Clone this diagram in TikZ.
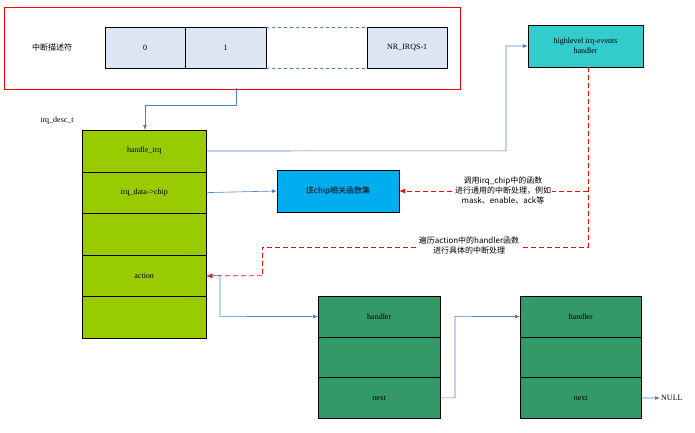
\documentclass[tikz,border=0pt]{standalone}
\usepackage{fontspec}
\setmainfont{Liberation Serif}
\newfontfamily\cjk{Noto Sans CJK SC}
\usetikzlibrary{arrows.meta}
\definecolor{cellb}{HTML}{DCE6F2}
\definecolor{lgreen}{HTML}{99CC00}
\definecolor{dgreen}{HTML}{339966}
\definecolor{teal2}{HTML}{33CCCC}
\definecolor{lblue}{HTML}{4F81BD}
\begin{document}
\begin{tikzpicture}[x=1pt,y=-1pt,font=\fontsize{8}{10}\selectfont,
  cell/.style={draw=black,fill=cellb,minimum width=80pt,minimum height=41pt,inner sep=0pt,anchor=north west},
  grw/.style={draw=black,fill=lgreen,minimum width=124pt,minimum height=41.6pt,inner sep=0pt,anchor=north west},
  hrow/.style={draw=black,fill=dgreen,minimum width=122pt,minimum height=40.7pt,inner sep=0pt,anchor=north west},
  bl/.style={draw=lblue,line width=0.6pt},
  bla/.style={bl,-{Latex[length=5pt,width=4pt]}},
  rd/.style={draw=red,dashed,dash pattern=on 5pt off 3pt,line width=0.7pt},
  rda/.style={rd,-{Latex[length=6pt,width=5pt]}}]
\useasboundingbox (0,0) rectangle (695,432);
\node[draw=red,line width=0.7pt,minimum width=456pt,minimum height=82pt,anchor=north west,inner sep=0pt] (outer) at (4,7) {};
\node (lab) at (52,47) {\cjk 中断描述符};
\node[cell] (c0) at (105,27) {0};
\node[cell,minimum width=81pt] (c1) at (185,27) {1};
\node[cell,minimum width=80pt] (cn) at (367,27) {NR\_IRQS-1};
\draw[lblue,dashed,line width=0.6pt] (c1.north east) -- (cn.north west) (c1.south east) -- (cn.south west);
\node (dt) at (57,121) {irq\_desc\_t};
\node[grw] (g1) at (82,130) {handle\_irq};
\node[grw] (g2) at (82,171.6) {irq\_data->chip};
\node[grw] (g3) at (82,213.2) {};
\node[grw] (g4) at (82,254.8) {action};
\node[grw] (g5) at (82,296.4) {};
\coordinate (o1) at (236,88);
\draw[bla] (o1) -- (236,105) -- (145,105) -- (g1.north -| 145,0);
\node[draw=black,fill=teal2,minimum width=115pt,minimum height=42pt,inner sep=0pt,align=center] (hl) at (585.5,46) {highlevel irq-events\\handler};
\draw[bla] (g1.east) -- (506,150.8) -- (506,46) -- (hl.west);
\node[draw=black,fill=cyan,minimum width=122pt,minimum height=42pt,inner sep=0pt] (chip) at (338,191) {\cjk 该chip相关函数集};
\draw[bla] (g2.east) -- (chip.west);
\draw[rd] (hl.south -| 588,0) -- (588,247) -- (262,247) -- (262,275.6);
\draw[rda] (262,275.6) -- (g4.east);
\draw[rda] (588,191) -- (chip.east);
\node[fill=white,inner sep=1pt,align=center] (t1) at (503,190) {\cjk 调用irq\_chip中的函数\\\cjk 进行通用的中断处理，例如\\\cjk mask、enable、ack等};
\node[fill=white,inner sep=1pt,align=center] (t2) at (469,245) {\cjk 遍历action中的handler函数\\\cjk 进行具体的中断处理};
\node[hrow] (h1) at (318,296) {handler};
\node[hrow] (h2) at (318,336.7) {};
\node[hrow] (h3) at (318,377.4) {next};
\node[hrow,minimum width=121pt] (k1) at (520,296) {handler};
\node[hrow,minimum width=121pt] (k2) at (520,336.7) {};
\node[hrow,minimum width=121pt] (k3) at (520,377.4) {next};
\draw[bla] (g4.east) -- (220,275.6) -- (220,316.4) -- (h1.west);
\draw[bla] (h3.east) -- (455,397.8) -- (455,316.4) -- (k1.west);
\node[anchor=west,inner sep=1pt] (null) at (660,398) {NULL};
\draw[bla] (k3.east) -- (null.west);
\end{tikzpicture}
\end{document}
